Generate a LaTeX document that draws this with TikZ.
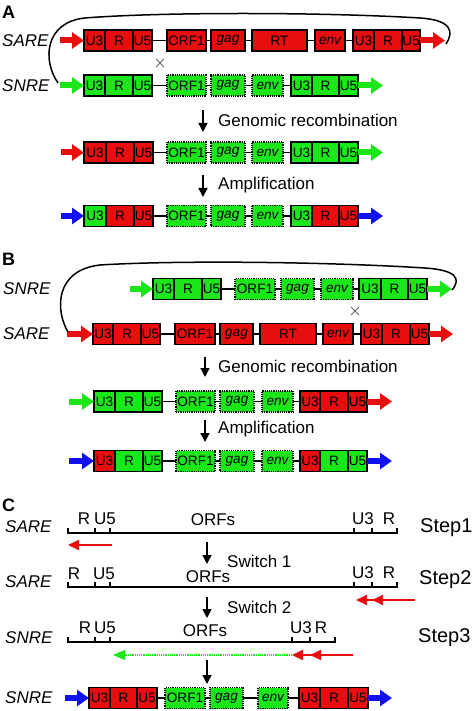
\documentclass[tikz,border=0pt]{standalone}
\usepackage{fontspec}
\setmainfont{Liberation Sans}
\usetikzlibrary{arrows.meta}
\definecolor{myred}{RGB}{230,14,14}
\definecolor{mygreen}{RGB}{26,230,26}
\definecolor{myblue}{RGB}{16,16,240}
\newcommand\bx[6]{\pgfmathsetmacro\bxw{#4-#3}\pgfmathsetmacro\bxc{(#3+#4)/2}\node[#2,minimum width=\bxw pt] (#1) at (\bxc,#5) {#6};}
\tikzset{
  sb/.style={draw, line width=1.2pt, inner sep=0pt, outer sep=0pt, minimum height=21pt, font=\fontsize{13.6}{15}\selectfont},
  rs/.style={sb, fill=myred},
  gs/.style={sb, fill=mygreen},
  gd/.style={sb, fill=mygreen, densely dotted},
  rsi/.style={rs, font=\fontsize{13.6}{15}\selectfont\itshape},
  gdi/.style={gd, font=\fontsize{13.6}{15}\selectfont\itshape},
  conn/.style={line width=1.2pt},
  bigarr/.style={line width=6pt, -{Triangle[length=12pt,width=16pt]}},
  thinarr/.style={line width=2pt, -{Triangle[length=11pt,width=10pt]}},
  downarr/.style={line width=1.5pt, -{Triangle[length=9pt,width=9pt]}},
  lab/.style={font=\fontsize{17}{20}\selectfont\itshape, anchor=west, inner sep=0pt},
  txt/.style={font=\fontsize{17}{20}\selectfont, inner sep=0pt},
  steplab/.style={font=\fontsize{20}{24}\selectfont, anchor=west, inner sep=0pt},
  panel/.style={font=\fontsize{18}{22}\selectfont\bfseries, anchor=west, inner sep=0pt},
  curve/.style={line width=1.5pt},
  cline/.style={line width=2pt},
  xmark/.style={line width=0.9pt, black!60}
}
\begin{document}
\begin{tikzpicture}[x=1pt,y=-1pt]
\useasboundingbox (0,0) rectangle (474,711);
% ================= Panel A
\node[panel] (pA) at (2,12) {A};
\node[lab] (lA1) at (2,41) {SARE};
\node[lab] (lA2) at (2,86) {SNRE};
% row A1
\bx{a1u3}{rs}{84}{105}{40.5}{U3}
\bx{a1r}{rs}{105}{133}{40.5}{R}
\bx{a1u5}{rs}{133}{152}{40.5}{U5}
\bx{a1orf}{rs}{167}{206}{40.5}{ORF1}
\bx{a1gag}{rsi}{211}{245}{40.5}{gag}
\bx{a1rt}{rs}{252}{307}{40.5}{RT}
\bx{a1env}{rsi}{315}{345}{40.5}{env}
\bx{a1u3b}{rs}{353}{374}{40.5}{U3}
\bx{a1rb}{rs}{374}{402}{40.5}{R}
\bx{a1u5b}{rs}{402}{420}{40.5}{U5}
\draw[conn] (a1u5.east)--(a1orf.west) (a1orf.east)--(a1gag.west) (a1gag.east)--(a1rt.west) (a1rt.east)--(a1env.west) (a1env.east)--(a1u3b.west);
\draw[bigarr, myred] (60,40.5) -- (a1u3.west);
\draw[bigarr, myred] (a1u5b.east) -- (445,40.5);
% row A2
\bx{a2u3}{gs}{84}{105}{85.5}{U3}
\bx{a2r}{gs}{105}{133}{85.5}{R}
\bx{a2u5}{gs}{133}{152}{85.5}{U5}
\bx{a2orf}{gd}{167}{206}{85.5}{ORF1}
\bx{a2gag}{gdi}{211}{245}{85.5}{gag}
\bx{a2env}{gdi}{252}{283}{85.5}{env}
\bx{a2u3b}{gs}{291}{312}{85.5}{U3}
\bx{a2rb}{gs}{312}{339}{85.5}{R}
\bx{a2u5b}{gs}{339}{358}{85.5}{U5}
\draw[conn] (a2u5.east)--(a2orf.west) (a2orf.east)--(a2gag.west) (a2gag.east)--(a2env.west) (a2env.east)--(a2u3b.west);
\draw[bigarr, mygreen] (60,85.5) -- (a2u3.west);
\draw[bigarr, mygreen] (a2u5b.east) -- (383,85.5);
% curve A
\draw[curve] (446,44) .. controls (454,32) and (452,20) .. (420,18) .. controls (320,12) and (160,12) .. (85,18) .. controls (45,22) and (42,60) .. (58,83);
\draw[xmark] (156,59) -- (164,67) (156,67) -- (164,59);
% arrow
\coordinate (dA1s) at (203,110); \coordinate (dA1e) at (203,132);
\draw[downarr] (dA1s) -- (dA1e);
\node[txt, anchor=west] (tA1) at (218,120) {Genomic recombination};
% row A3
\bx{a3u3}{rs}{84}{106}{152.5}{U3}
\bx{a3r}{rs}{106}{134}{152.5}{R}
\bx{a3u5}{rs}{134}{153}{152.5}{U5}
\bx{a3orf}{gd}{167}{206}{152.5}{ORF1}
\bx{a3gag}{gdi}{211}{245}{152.5}{gag}
\bx{a3env}{gdi}{252}{283}{152.5}{env}
\bx{a3u3b}{gs}{291}{312}{152.5}{U3}
\bx{a3rb}{gs}{312}{339}{152.5}{R}
\bx{a3u5b}{gs}{339}{358}{152.5}{U5}
\draw[conn] (a3u5.east)--(a3orf.west) (a3orf.east)--(a3gag.west) (a3gag.east)--(a3env.west) (a3env.east)--(a3u3b.west);
\draw[bigarr, myred] (61,152.5) -- (a3u3.west);
\draw[bigarr, mygreen] (a3u5b.east) -- (383,152.5);
\coordinate (dA2s) at (203,175); \coordinate (dA2e) at (203,197);
\draw[downarr] (dA2s) -- (dA2e);
\node[txt, anchor=west] (tA2) at (218,185) {Amplification};
% row A4
\bx{a4u3}{gs}{84}{106}{216}{U3}
\bx{a4r}{rs}{106}{134}{216}{R}
\bx{a4u5}{rs}{134}{153}{216}{U5}
\bx{a4orf}{gd}{167}{206}{216}{ORF1}
\bx{a4gag}{gdi}{211}{245}{216}{gag}
\bx{a4env}{gdi}{252}{283}{216}{env}
\bx{a4u3b}{gs}{291}{312}{216}{U3}
\bx{a4rb}{rs}{312}{339}{216}{R}
\bx{a4u5b}{rs}{339}{358}{216}{U5}
\draw[conn] (a4u5.east)--(a4orf.west) (a4orf.east)--(a4gag.west) (a4gag.east)--(a4env.west) (a4env.east)--(a4u3b.west);
\draw[bigarr, myblue] (61,216) -- (a4u3.west);
\draw[bigarr, myblue] (a4u5b.east) -- (383,216);
% ================= Panel B
\node[panel] (pB) at (2,259) {B};
\node[lab] (lB1) at (3,289) {SNRE};
\node[lab] (lB2) at (3,334) {SARE};
% row B1
\bx{b1u3}{gs}{153}{174}{289}{U3}
\bx{b1r}{gs}{174}{202}{289}{R}
\bx{b1u5}{gs}{202}{221}{289}{U5}
\bx{b1orf}{gd}{235}{275}{289}{ORF1}
\bx{b1gag}{gdi}{281}{314}{289}{gag}
\bx{b1env}{gdi}{321}{353}{289}{env}
\bx{b1u3b}{gs}{359}{381}{289}{U3}
\bx{b1rb}{gs}{381}{408}{289}{R}
\bx{b1u5b}{gs}{408}{427}{289}{U5}
\draw[conn] (b1u5.east)--(b1orf.west) (b1orf.east)--(b1gag.west) (b1gag.east)--(b1env.west) (b1env.east)--(b1u3b.west);
\draw[bigarr, mygreen] (130,289) -- (b1u3.west);
\draw[bigarr, mygreen] (b1u5b.east) -- (452,289);
% row B2
\bx{b2u3}{rs}{93}{113}{334}{U3}
\bx{b2r}{rs}{113}{141}{334}{R}
\bx{b2u5}{rs}{141}{160}{334}{U5}
\bx{b2orf}{rs}{175}{215}{334}{ORF1}
\bx{b2gag}{rsi}{220}{253}{334}{gag}
\bx{b2rt}{rs}{260}{316}{334}{RT}
\bx{b2env}{rsi}{323}{353}{334}{env}
\bx{b2u3b}{rs}{361}{382}{334}{U3}
\bx{b2rb}{rs}{382}{410}{334}{R}
\bx{b2u5b}{rs}{410}{429}{334}{U5}
\draw[conn] (b2u5.east)--(b2orf.west) (b2orf.east)--(b2gag.west) (b2gag.east)--(b2rt.west) (b2rt.east)--(b2env.west) (b2env.east)--(b2u3b.west);
\draw[bigarr, myred] (67,334) -- (b2u3.west);
\draw[bigarr, myred] (b2u5b.east) -- (453,334);
% curve B
\draw[curve] (452,290) .. controls (462,278) and (455,270) .. (425,268) .. controls (330,262) and (180,260) .. (100,265) .. controls (55,270) and (55,310) .. (68,332);
\draw[xmark] (351,307) -- (359,315) (351,315) -- (359,307);
\coordinate (dB1s) at (205,357); \coordinate (dB1e) at (205,377);
\draw[downarr] (dB1s) -- (dB1e);
\node[txt, anchor=west] (tB1) at (218,366) {Genomic recombination};
% row B3
\bx{b3u3}{gs}{94}{115}{401.5}{U3}
\bx{b3r}{gs}{115}{143}{401.5}{R}
\bx{b3u5}{gs}{143}{162}{401.5}{U5}
\bx{b3orf}{gd}{176}{215}{401.5}{ORF1}
\bx{b3gag}{gdi}{220}{254}{401.5}{gag}
\bx{b3env}{gdi}{262}{293}{401.5}{env}
\bx{b3u3b}{rs}{300}{320}{401.5}{U3}
\bx{b3rb}{rs}{320}{348}{401.5}{R}
\bx{b3u5b}{rs}{348}{367}{401.5}{U5}
\draw[conn] (b3u5.east)--(b3orf.west) (b3orf.east)--(b3gag.west) (b3gag.east)--(b3env.west) (b3env.east)--(b3u3b.west);
\draw[bigarr, mygreen] (69,401.5) -- (b3u3.west);
\draw[bigarr, myred] (b3u5b.east) -- (392,401.5);
\coordinate (dB2s) at (205,420); \coordinate (dB2e) at (205,442);
\draw[downarr] (dB2s) -- (dB2e);
\node[txt, anchor=west] (tB2) at (218,429) {Amplification};
% row B4
\bx{b4u3}{rs}{94}{115}{461}{U3}
\bx{b4r}{gs}{115}{143}{461}{R}
\bx{b4u5}{gs}{143}{162}{461}{U5}
\bx{b4orf}{gd}{176}{215}{461}{ORF1}
\bx{b4gag}{gdi}{220}{254}{461}{gag}
\bx{b4env}{gdi}{262}{293}{461}{env}
\bx{b4u3b}{rs}{300}{320}{461}{U3}
\bx{b4rb}{gs}{320}{348}{461}{R}
\bx{b4u5b}{gs}{348}{367}{461}{U5}
\draw[conn] (b4u5.east)--(b4orf.west) (b4orf.east)--(b4gag.west) (b4gag.east)--(b4env.west) (b4env.east)--(b4u3b.west);
\draw[bigarr, myblue] (69,461) -- (b4u3.west);
\draw[bigarr, myblue] (b4u5b.east) -- (392,461);
% ================= Panel C
\node[panel] (pC) at (2,505) {C};
\node[lab] (lC1) at (5,527) {SARE};
\node[lab] (lC2) at (5,582) {SARE};
\node[lab] (lC3) at (5,638) {SNRE};
\node[lab] (lC4) at (5,698) {SNRE};
% line 1
\draw[cline] (68,528) -- (68,533) -- (397,533) -- (397,528);
\draw[cline] (95,528) -- (95,533) (110,528) -- (110,533) (354,528) -- (354,533) (372,528) -- (372,533);
\node[txt] (c1r) at (84,519) {R};
\node[txt] (c1u5) at (105,519) {U5};
\node[txt] (c1orf) at (213,520) {ORFs};
\node[txt] (c1u3) at (363,519) {U3};
\node[txt] (c1rb) at (389,519) {R};
\node[steplab] (s1) at (420,528) {Step1};
\draw[thinarr, myred] (112,545) -- (68,545);
\coordinate (dC1s) at (207,542); \coordinate (dC1e) at (207,564);
\draw[downarr] (dC1s) -- (dC1e);
\node[txt, anchor=west] (sw1) at (227,561) {Switch 1};
% line 2
\draw[cline] (68,582) -- (68,587) -- (397,587) -- (397,582);
\draw[cline] (95,582) -- (95,587) (110,582) -- (110,587) (354,582) -- (354,587) (372,582) -- (372,587);
\node[txt] (c2r) at (74,574) {R};
\node[txt] (c2u5) at (104,574) {U5};
\node[txt] (c2orf) at (208,577) {ORFs};
\node[txt] (c2u3) at (363,573) {U3};
\node[txt] (c2rb) at (389,573) {R};
\node[steplab] (s2) at (419,580) {Step2};
\draw[thinarr, myred] (415,600) -- (356,600);
\draw[thinarr, myred] (382,600) -- (372,600);
\coordinate (dC2s) at (207,597); \coordinate (dC2e) at (207,618);
\draw[downarr] (dC2s) -- (dC2e);
\node[txt, anchor=west] (sw2) at (227,607) {Switch 2};
% line 3
\draw[cline] (68,637) -- (68,642) -- (335,642) -- (335,637);
\draw[cline] (95,637) -- (95,642) (110,637) -- (110,642) (292,637) -- (292,642) (310,637) -- (310,642);
\node[txt] (c3r) at (85,628) {R};
\node[txt] (c3u5) at (105,628) {U5};
\node[txt] (c3orf) at (205,631) {ORFs};
\node[txt] (c3u3) at (301,628) {U3};
\node[txt] (c3rb) at (321,628) {R};
\node[steplab] (s3) at (418,638) {Step3};
\draw[mygreen, line width=1.2pt, densely dotted, -{Triangle[length=12pt,width=10pt]}] (292,655) -- (113,655);
\draw[thinarr, myred] (353,655) -- (292,655);
\draw[thinarr, myred] (320,655) -- (310,655);
\coordinate (dC3s) at (207,660); \coordinate (dC3e) at (207,684);
\draw[downarr] (dC3s) -- (dC3e);
% final row
\bx{c4u3}{rs}{89}{110}{698}{U3}
\bx{c4r}{rs}{110}{137}{698}{R}
\bx{c4u5}{rs}{137}{157}{698}{U5}
\bx{c4orf}{gd}{165}{205}{698}{ORF1}
\bx{c4gag}{gdi}{210}{243}{698}{gag}
\bx{c4env}{gdi}{258}{288}{698}{env}
\bx{c4u3b}{rs}{299}{320}{698}{U3}
\bx{c4rb}{rs}{320}{348}{698}{R}
\bx{c4u5b}{rs}{348}{368}{698}{U5}
\draw[conn] (c4u5.east)--(c4orf.west) (c4orf.east)--(c4gag.west) (c4gag.east)--(c4env.west) (c4env.east)--(c4u3b.west);
\draw[bigarr, myblue] (65,698) -- (c4u3.west);
\draw[bigarr, myblue] (c4u5b.east) -- (392,698);
\end{tikzpicture}
\end{document}
